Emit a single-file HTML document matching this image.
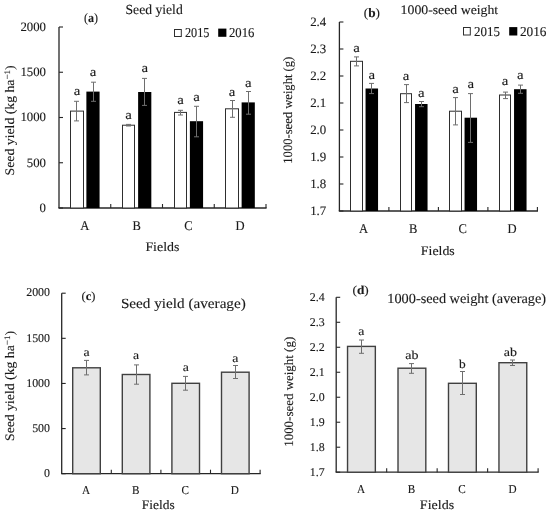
<!DOCTYPE html>
<html><head><meta charset="utf-8"><title>Seed yield and 1000-seed weight</title>
<style>
html,body{margin:0;padding:0;background:#fff;}
body{width:550px;height:513px;overflow:hidden;}
svg{display:block;}
svg text{text-rendering:geometricPrecision;font-family:'Liberation Serif', 'Times New Roman', serif;fill:#1a1a1a;stroke:#1a1a1a;stroke-width:0.12px;}
</style></head>
<body>
<svg width="550" height="513" viewBox="0 0 550 513">
<rect width="550" height="513" fill="#fff"/>
<line x1="59.0" y1="27.0" x2="59.0" y2="208.0" stroke="#262626" stroke-width="1.3"/>
<line x1="59.0" y1="27.0" x2="63.0" y2="27.0" stroke="#262626" stroke-width="1.1"/>
<line x1="59.0" y1="72.25" x2="63.0" y2="72.25" stroke="#262626" stroke-width="1.1"/>
<line x1="59.0" y1="117.5" x2="63.0" y2="117.5" stroke="#262626" stroke-width="1.1"/>
<line x1="59.0" y1="162.75" x2="63.0" y2="162.75" stroke="#262626" stroke-width="1.1"/>
<line x1="59.0" y1="208.0" x2="63.0" y2="208.0" stroke="#262626" stroke-width="1.1"/>
<line x1="58.4" y1="208.0" x2="266.6" y2="208.0" stroke="#262626" stroke-width="1.3"/>
<line x1="110.75" y1="208.0" x2="110.75" y2="204.0" stroke="#262626" stroke-width="1.1"/>
<line x1="162.5" y1="208.0" x2="162.5" y2="204.0" stroke="#262626" stroke-width="1.1"/>
<line x1="214.25" y1="208.0" x2="214.25" y2="204.0" stroke="#262626" stroke-width="1.1"/>
<line x1="266.0" y1="208.0" x2="266.0" y2="204.0" stroke="#262626" stroke-width="1.1"/>
<text x="46.0" y="30.9" font-size="12.8" text-anchor="end">2000</text>
<text x="46.0" y="76.15" font-size="12.8" text-anchor="end">1500</text>
<text x="46.0" y="121.4" font-size="12.8" text-anchor="end">1000</text>
<text x="46.0" y="166.65" font-size="12.8" text-anchor="end">500</text>
<text x="46.0" y="211.9" font-size="12.8" text-anchor="end">0</text>
<rect x="70.50" y="111.1" width="13.00" height="96.9" fill="#fff" stroke="#2e2e2e" stroke-width="1"/>
<rect x="86.38" y="91.6" width="13.20" height="116.4" fill="#000"/>
<line x1="76.5" y1="101.3" x2="76.5" y2="120.9" stroke="#6e6e6e" stroke-width="1.0"/>
<line x1="74.0" y1="101.3" x2="79.0" y2="101.3" stroke="#6e6e6e" stroke-width="1.0"/>
<line x1="74.0" y1="120.9" x2="79.0" y2="120.9" stroke="#6e6e6e" stroke-width="1.0"/>
<line x1="93.5" y1="82.2" x2="93.5" y2="101.3" stroke="#6e6e6e" stroke-width="1.0"/>
<line x1="91.0" y1="82.2" x2="96.0" y2="82.2" stroke="#6e6e6e" stroke-width="1.0"/>
<line x1="91.0" y1="101.3" x2="96.0" y2="101.3" stroke="#6e6e6e" stroke-width="1.0"/>
<text x="77.00" y="95.1" font-size="13" text-anchor="middle" textLength="6.6" lengthAdjust="spacingAndGlyphs">a</text>
<text x="92.97" y="75.8" font-size="13" text-anchor="middle" textLength="6.6" lengthAdjust="spacingAndGlyphs">a</text>
<rect x="122.50" y="125.2" width="12.00" height="82.8" fill="#fff" stroke="#2e2e2e" stroke-width="1"/>
<rect x="138.12" y="92.0" width="13.20" height="116.0" fill="#000"/>
<line x1="128.5" y1="124.4" x2="128.5" y2="126.0" stroke="#6e6e6e" stroke-width="1.0"/>
<line x1="126.0" y1="124.4" x2="131.0" y2="124.4" stroke="#6e6e6e" stroke-width="1.0"/>
<line x1="126.0" y1="126.0" x2="131.0" y2="126.0" stroke="#6e6e6e" stroke-width="1.0"/>
<line x1="144.5" y1="78.4" x2="144.5" y2="105.4" stroke="#6e6e6e" stroke-width="1.0"/>
<line x1="142.0" y1="78.4" x2="147.0" y2="78.4" stroke="#6e6e6e" stroke-width="1.0"/>
<line x1="142.0" y1="105.4" x2="147.0" y2="105.4" stroke="#6e6e6e" stroke-width="1.0"/>
<text x="128.50" y="119.0" font-size="13" text-anchor="middle" textLength="6.6" lengthAdjust="spacingAndGlyphs">a</text>
<text x="144.72" y="72.2" font-size="13" text-anchor="middle" textLength="6.6" lengthAdjust="spacingAndGlyphs">a</text>
<rect x="174.50" y="112.4" width="12.00" height="95.6" fill="#fff" stroke="#2e2e2e" stroke-width="1"/>
<rect x="189.88" y="121.2" width="13.20" height="86.8" fill="#000"/>
<line x1="180.5" y1="110.3" x2="180.5" y2="115.0" stroke="#6e6e6e" stroke-width="1.0"/>
<line x1="178.0" y1="110.3" x2="183.0" y2="110.3" stroke="#6e6e6e" stroke-width="1.0"/>
<line x1="178.0" y1="115.0" x2="183.0" y2="115.0" stroke="#6e6e6e" stroke-width="1.0"/>
<line x1="196.5" y1="106.3" x2="196.5" y2="136.8" stroke="#6e6e6e" stroke-width="1.0"/>
<line x1="194.0" y1="106.3" x2="199.0" y2="106.3" stroke="#6e6e6e" stroke-width="1.0"/>
<line x1="194.0" y1="136.8" x2="199.0" y2="136.8" stroke="#6e6e6e" stroke-width="1.0"/>
<text x="180.50" y="104.3" font-size="13" text-anchor="middle" textLength="6.6" lengthAdjust="spacingAndGlyphs">a</text>
<text x="196.47" y="101.2" font-size="13" text-anchor="middle" textLength="6.6" lengthAdjust="spacingAndGlyphs">a</text>
<rect x="225.50" y="108.8" width="13.00" height="99.2" fill="#fff" stroke="#2e2e2e" stroke-width="1"/>
<rect x="241.62" y="102.4" width="13.20" height="105.6" fill="#000"/>
<line x1="232.5" y1="100.5" x2="232.5" y2="117.3" stroke="#6e6e6e" stroke-width="1.0"/>
<line x1="230.0" y1="100.5" x2="235.0" y2="100.5" stroke="#6e6e6e" stroke-width="1.0"/>
<line x1="230.0" y1="117.3" x2="235.0" y2="117.3" stroke="#6e6e6e" stroke-width="1.0"/>
<line x1="248.5" y1="91.5" x2="248.5" y2="114.2" stroke="#6e6e6e" stroke-width="1.0"/>
<line x1="246.0" y1="91.5" x2="251.0" y2="91.5" stroke="#6e6e6e" stroke-width="1.0"/>
<line x1="246.0" y1="114.2" x2="251.0" y2="114.2" stroke="#6e6e6e" stroke-width="1.0"/>
<text x="232.00" y="95.8" font-size="13" text-anchor="middle" textLength="6.6" lengthAdjust="spacingAndGlyphs">a</text>
<text x="248.22" y="86.5" font-size="13" text-anchor="middle" textLength="6.6" lengthAdjust="spacingAndGlyphs">a</text>
<text x="84.88" y="230.0" font-size="13.4" text-anchor="middle" textLength="9.1" lengthAdjust="spacingAndGlyphs">A</text>
<text x="136.62" y="230.0" font-size="13.4" text-anchor="middle" textLength="8.4" lengthAdjust="spacingAndGlyphs">B</text>
<text x="188.38" y="230.0" font-size="13.4" text-anchor="middle" textLength="8.4" lengthAdjust="spacingAndGlyphs">C</text>
<text x="240.12" y="230.0" font-size="13.4" text-anchor="middle" textLength="9.1" lengthAdjust="spacingAndGlyphs">D</text>
<text x="162.4" y="251.0" font-size="13" text-anchor="middle" textLength="34" lengthAdjust="spacingAndGlyphs">Fields</text>
<text x="125.5" y="14.4" font-size="13.8" textLength="57.2" lengthAdjust="spacingAndGlyphs">Seed yield</text>
<text x="84.0" y="22.4" font-size="13" textLength="14.0" lengthAdjust="spacingAndGlyphs">(<tspan font-weight="bold">a</tspan>)</text>
<rect x="174.5" y="29.5" width="6.8" height="7" fill="#fff" stroke="#2e2e2e" stroke-width="1"/>
<text x="184.9" y="36.7" font-size="13.6" textLength="24.5" lengthAdjust="spacingAndGlyphs">2015</text>
<rect x="218.2" y="28.6" width="8.2" height="8.2" fill="#000"/>
<text x="229.0" y="36.7" font-size="13.6" textLength="25.4" lengthAdjust="spacingAndGlyphs">2016</text>
<text transform="translate(14.3,120.4) rotate(-90)" font-size="13" text-anchor="middle" textLength="110" lengthAdjust="spacingAndGlyphs">Seed yield (kg ha<tspan font-size="8.5" dy="-4.5">−1</tspan><tspan dy="4.5">)</tspan></text>
<line x1="339.4" y1="22.0" x2="339.4" y2="211.0" stroke="#262626" stroke-width="1.3"/>
<line x1="339.4" y1="22.0" x2="343.4" y2="22.0" stroke="#262626" stroke-width="1.1"/>
<line x1="339.4" y1="49.0" x2="343.4" y2="49.0" stroke="#262626" stroke-width="1.1"/>
<line x1="339.4" y1="76.0" x2="343.4" y2="76.0" stroke="#262626" stroke-width="1.1"/>
<line x1="339.4" y1="103.0" x2="343.4" y2="103.0" stroke="#262626" stroke-width="1.1"/>
<line x1="339.4" y1="130.0" x2="343.4" y2="130.0" stroke="#262626" stroke-width="1.1"/>
<line x1="339.4" y1="157.0" x2="343.4" y2="157.0" stroke="#262626" stroke-width="1.1"/>
<line x1="339.4" y1="184.0" x2="343.4" y2="184.0" stroke="#262626" stroke-width="1.1"/>
<line x1="339.4" y1="211.0" x2="343.4" y2="211.0" stroke="#262626" stroke-width="1.1"/>
<line x1="338.79999999999995" y1="211.0" x2="538.0" y2="211.0" stroke="#262626" stroke-width="1.3"/>
<line x1="388.9" y1="211.0" x2="388.9" y2="207.0" stroke="#262626" stroke-width="1.1"/>
<line x1="438.4" y1="211.0" x2="438.4" y2="207.0" stroke="#262626" stroke-width="1.1"/>
<line x1="487.9" y1="211.0" x2="487.9" y2="207.0" stroke="#262626" stroke-width="1.1"/>
<line x1="537.4" y1="211.0" x2="537.4" y2="207.0" stroke="#262626" stroke-width="1.1"/>
<text x="326.3" y="26.3" font-size="12.9" text-anchor="end">2.4</text>
<text x="326.3" y="53.3" font-size="12.9" text-anchor="end">2.3</text>
<text x="326.3" y="80.3" font-size="12.9" text-anchor="end">2.2</text>
<text x="326.3" y="107.3" font-size="12.9" text-anchor="end">2.1</text>
<text x="326.3" y="134.3" font-size="12.9" text-anchor="end">2.0</text>
<text x="326.3" y="161.3" font-size="12.9" text-anchor="end">1.9</text>
<text x="326.3" y="188.3" font-size="12.9" text-anchor="end">1.8</text>
<text x="326.3" y="215.3" font-size="12.9" text-anchor="end">1.7</text>
<rect x="350.50" y="61.3" width="12.00" height="149.7" fill="#fff" stroke="#2e2e2e" stroke-width="1"/>
<rect x="365.55" y="88.5" width="12.50" height="122.5" fill="#000"/>
<line x1="356.5" y1="56.9" x2="356.5" y2="65.9" stroke="#6e6e6e" stroke-width="1.0"/>
<line x1="354.0" y1="56.9" x2="359.0" y2="56.9" stroke="#6e6e6e" stroke-width="1.0"/>
<line x1="354.0" y1="65.9" x2="359.0" y2="65.9" stroke="#6e6e6e" stroke-width="1.0"/>
<line x1="371.5" y1="83.4" x2="371.5" y2="93.6" stroke="#6e6e6e" stroke-width="1.0"/>
<line x1="369.0" y1="83.4" x2="374.0" y2="83.4" stroke="#6e6e6e" stroke-width="1.0"/>
<line x1="369.0" y1="93.6" x2="374.0" y2="93.6" stroke="#6e6e6e" stroke-width="1.0"/>
<text x="356.50" y="51.6" font-size="13" text-anchor="middle" textLength="6.6" lengthAdjust="spacingAndGlyphs">a</text>
<text x="371.80" y="78.9" font-size="13" text-anchor="middle" textLength="6.6" lengthAdjust="spacingAndGlyphs">a</text>
<rect x="400.50" y="93.7" width="11.00" height="117.3" fill="#fff" stroke="#2e2e2e" stroke-width="1"/>
<rect x="415.05" y="104.0" width="12.50" height="107.0" fill="#000"/>
<line x1="406.5" y1="84.6" x2="406.5" y2="102.6" stroke="#6e6e6e" stroke-width="1.0"/>
<line x1="404.0" y1="84.6" x2="409.0" y2="84.6" stroke="#6e6e6e" stroke-width="1.0"/>
<line x1="404.0" y1="102.6" x2="409.0" y2="102.6" stroke="#6e6e6e" stroke-width="1.0"/>
<line x1="421.5" y1="101.5" x2="421.5" y2="106.7" stroke="#6e6e6e" stroke-width="1.0"/>
<line x1="419.0" y1="101.5" x2="424.0" y2="101.5" stroke="#6e6e6e" stroke-width="1.0"/>
<line x1="419.0" y1="106.7" x2="424.0" y2="106.7" stroke="#6e6e6e" stroke-width="1.0"/>
<text x="406.00" y="79.8" font-size="13" text-anchor="middle" textLength="6.6" lengthAdjust="spacingAndGlyphs">a</text>
<text x="421.30" y="96.9" font-size="13" text-anchor="middle" textLength="6.6" lengthAdjust="spacingAndGlyphs">a</text>
<rect x="449.50" y="111.2" width="12.00" height="99.8" fill="#fff" stroke="#2e2e2e" stroke-width="1"/>
<rect x="464.55" y="117.7" width="12.50" height="93.3" fill="#000"/>
<line x1="455.5" y1="97.6" x2="455.5" y2="124.9" stroke="#6e6e6e" stroke-width="1.0"/>
<line x1="453.0" y1="97.6" x2="458.0" y2="97.6" stroke="#6e6e6e" stroke-width="1.0"/>
<line x1="453.0" y1="124.9" x2="458.0" y2="124.9" stroke="#6e6e6e" stroke-width="1.0"/>
<line x1="470.5" y1="93.6" x2="470.5" y2="142.4" stroke="#6e6e6e" stroke-width="1.0"/>
<line x1="468.0" y1="93.6" x2="473.0" y2="93.6" stroke="#6e6e6e" stroke-width="1.0"/>
<line x1="468.0" y1="142.4" x2="473.0" y2="142.4" stroke="#6e6e6e" stroke-width="1.0"/>
<text x="455.50" y="92.8" font-size="13" text-anchor="middle" textLength="6.6" lengthAdjust="spacingAndGlyphs">a</text>
<text x="470.80" y="87.5" font-size="13" text-anchor="middle" textLength="6.6" lengthAdjust="spacingAndGlyphs">a</text>
<rect x="499.50" y="95.0" width="11.00" height="116.0" fill="#fff" stroke="#2e2e2e" stroke-width="1"/>
<rect x="514.05" y="89.2" width="12.50" height="121.8" fill="#000"/>
<line x1="505.5" y1="92.1" x2="505.5" y2="98.6" stroke="#6e6e6e" stroke-width="1.0"/>
<line x1="503.0" y1="92.1" x2="508.0" y2="92.1" stroke="#6e6e6e" stroke-width="1.0"/>
<line x1="503.0" y1="98.6" x2="508.0" y2="98.6" stroke="#6e6e6e" stroke-width="1.0"/>
<line x1="520.5" y1="85.1" x2="520.5" y2="93.3" stroke="#6e6e6e" stroke-width="1.0"/>
<line x1="518.0" y1="85.1" x2="523.0" y2="85.1" stroke="#6e6e6e" stroke-width="1.0"/>
<line x1="518.0" y1="93.3" x2="523.0" y2="93.3" stroke="#6e6e6e" stroke-width="1.0"/>
<text x="505.00" y="85.1" font-size="13" text-anchor="middle" textLength="6.6" lengthAdjust="spacingAndGlyphs">a</text>
<text x="520.30" y="78.7" font-size="13" text-anchor="middle" textLength="6.6" lengthAdjust="spacingAndGlyphs">a</text>
<text x="363.65" y="232.7" font-size="13.4" text-anchor="middle" textLength="9.1" lengthAdjust="spacingAndGlyphs">A</text>
<text x="413.15" y="232.7" font-size="13.4" text-anchor="middle" textLength="8.4" lengthAdjust="spacingAndGlyphs">B</text>
<text x="462.65" y="232.7" font-size="13.4" text-anchor="middle" textLength="8.4" lengthAdjust="spacingAndGlyphs">C</text>
<text x="512.15" y="232.7" font-size="13.4" text-anchor="middle" textLength="9.1" lengthAdjust="spacingAndGlyphs">D</text>
<text x="437.8" y="255.0" font-size="13" text-anchor="middle" textLength="34" lengthAdjust="spacingAndGlyphs">Fields</text>
<text x="400.6" y="14.2" font-size="13" textLength="97.6" lengthAdjust="spacingAndGlyphs">1000-seed weight</text>
<text x="363.8" y="17.2" font-size="13" textLength="16.2" lengthAdjust="spacingAndGlyphs">(<tspan font-weight="bold">b</tspan>)</text>
<rect x="463.5" y="27.5" width="6.8" height="7.5" fill="#fff" stroke="#2e2e2e" stroke-width="1"/>
<text x="474.0" y="35.6" font-size="13.6" textLength="25.9" lengthAdjust="spacingAndGlyphs">2015</text>
<rect x="509.2" y="27.1" width="8.1" height="8.4" fill="#000"/>
<text x="519.9" y="35.6" font-size="13.6" textLength="26.6" lengthAdjust="spacingAndGlyphs">2016</text>
<text transform="translate(291.8,110.2) rotate(-90)" font-size="12.8" text-anchor="middle" textLength="107" lengthAdjust="spacingAndGlyphs">1000-seed weight (g)</text>
<line x1="61.7" y1="293.2" x2="61.7" y2="473.7" stroke="#262626" stroke-width="1.3"/>
<line x1="61.7" y1="293.2" x2="65.7" y2="293.2" stroke="#262626" stroke-width="1.1"/>
<line x1="61.7" y1="338.325" x2="65.7" y2="338.325" stroke="#262626" stroke-width="1.1"/>
<line x1="61.7" y1="383.45" x2="65.7" y2="383.45" stroke="#262626" stroke-width="1.1"/>
<line x1="61.7" y1="428.575" x2="65.7" y2="428.575" stroke="#262626" stroke-width="1.1"/>
<line x1="61.7" y1="473.7" x2="65.7" y2="473.7" stroke="#262626" stroke-width="1.1"/>
<line x1="61.1" y1="473.7" x2="260.70000000000005" y2="473.7" stroke="#262626" stroke-width="1.3"/>
<line x1="111.30000000000001" y1="473.7" x2="111.30000000000001" y2="469.7" stroke="#262626" stroke-width="1.1"/>
<line x1="160.90000000000003" y1="473.7" x2="160.90000000000003" y2="469.7" stroke="#262626" stroke-width="1.1"/>
<line x1="210.5" y1="473.7" x2="210.5" y2="469.7" stroke="#262626" stroke-width="1.1"/>
<line x1="260.1" y1="473.7" x2="260.1" y2="469.7" stroke="#262626" stroke-width="1.1"/>
<text x="50.0" y="296.4" font-size="11.9" text-anchor="end">2000</text>
<text x="50.0" y="341.525" font-size="11.9" text-anchor="end">1500</text>
<text x="50.0" y="386.65" font-size="11.9" text-anchor="end">1000</text>
<text x="50.0" y="431.775" font-size="11.9" text-anchor="end">500</text>
<text x="50.0" y="476.9" font-size="11.9" text-anchor="end">0</text>
<rect x="72.70" y="367.8" width="27.60" height="105.89999999999998" fill="#e6e6e6" stroke="#404040" stroke-width="1.4"/>
<line x1="86.5" y1="360.4" x2="86.5" y2="374.9" stroke="#6e6e6e" stroke-width="1.0"/>
<line x1="84.0" y1="360.4" x2="89.0" y2="360.4" stroke="#6e6e6e" stroke-width="1.0"/>
<line x1="84.0" y1="374.9" x2="89.0" y2="374.9" stroke="#6e6e6e" stroke-width="1.0"/>
<text x="86.50" y="355.5" font-size="12" text-anchor="middle" textLength="6.1" lengthAdjust="spacingAndGlyphs">a</text>
<rect x="122.30" y="374.5" width="27.60" height="99.19999999999999" fill="#e6e6e6" stroke="#404040" stroke-width="1.4"/>
<line x1="136.5" y1="364.9" x2="136.5" y2="384.2" stroke="#6e6e6e" stroke-width="1.0"/>
<line x1="134.0" y1="364.9" x2="139.0" y2="364.9" stroke="#6e6e6e" stroke-width="1.0"/>
<line x1="134.0" y1="384.2" x2="139.0" y2="384.2" stroke="#6e6e6e" stroke-width="1.0"/>
<text x="136.10" y="359.1" font-size="12" text-anchor="middle" textLength="6.1" lengthAdjust="spacingAndGlyphs">a</text>
<rect x="171.90" y="383.3" width="27.60" height="90.39999999999998" fill="#e6e6e6" stroke="#404040" stroke-width="1.4"/>
<line x1="185.5" y1="376.4" x2="185.5" y2="390.2" stroke="#6e6e6e" stroke-width="1.0"/>
<line x1="183.0" y1="376.4" x2="188.0" y2="376.4" stroke="#6e6e6e" stroke-width="1.0"/>
<line x1="183.0" y1="390.2" x2="188.0" y2="390.2" stroke="#6e6e6e" stroke-width="1.0"/>
<text x="185.70" y="370.5" font-size="12" text-anchor="middle" textLength="6.1" lengthAdjust="spacingAndGlyphs">a</text>
<rect x="221.50" y="372.2" width="27.60" height="101.5" fill="#e6e6e6" stroke="#404040" stroke-width="1.4"/>
<line x1="235.5" y1="365.5" x2="235.5" y2="378.5" stroke="#6e6e6e" stroke-width="1.0"/>
<line x1="233.0" y1="365.5" x2="238.0" y2="365.5" stroke="#6e6e6e" stroke-width="1.0"/>
<line x1="233.0" y1="378.5" x2="238.0" y2="378.5" stroke="#6e6e6e" stroke-width="1.0"/>
<text x="235.30" y="361.5" font-size="12" text-anchor="middle" textLength="6.1" lengthAdjust="spacingAndGlyphs">a</text>
<text x="86.10" y="494.0" font-size="12" text-anchor="middle" textLength="8.09" lengthAdjust="spacingAndGlyphs">A</text>
<text x="135.70" y="494.0" font-size="12" text-anchor="middle" textLength="7.47" lengthAdjust="spacingAndGlyphs">B</text>
<text x="185.30" y="494.0" font-size="12" text-anchor="middle" textLength="7.47" lengthAdjust="spacingAndGlyphs">C</text>
<text x="234.90" y="494.0" font-size="12" text-anchor="middle" textLength="8.09" lengthAdjust="spacingAndGlyphs">D</text>
<text x="158.2" y="508.7" font-size="13" text-anchor="middle" textLength="32.9" lengthAdjust="spacingAndGlyphs">Fields</text>
<text x="120.9" y="308.3" font-size="14" textLength="124.9" lengthAdjust="spacingAndGlyphs">Seed yield (average)</text>
<text x="81.6" y="300.2" font-size="12" textLength="13.9" lengthAdjust="spacingAndGlyphs">(<tspan font-weight="bold">c</tspan>)</text>
<text transform="translate(14.3,386.0) rotate(-90)" font-size="13" text-anchor="middle" textLength="110" lengthAdjust="spacingAndGlyphs">Seed yield (kg ha<tspan font-size="8.5" dy="-4.5">−1</tspan><tspan dy="4.5">)</tspan></text>
<line x1="336.2" y1="297.3" x2="336.2" y2="472.2" stroke="#262626" stroke-width="1.3"/>
<line x1="336.2" y1="297.3" x2="340.2" y2="297.3" stroke="#262626" stroke-width="1.1"/>
<line x1="336.2" y1="322.2857142857143" x2="340.2" y2="322.2857142857143" stroke="#262626" stroke-width="1.1"/>
<line x1="336.2" y1="347.2714285714286" x2="340.2" y2="347.2714285714286" stroke="#262626" stroke-width="1.1"/>
<line x1="336.2" y1="372.25714285714287" x2="340.2" y2="372.25714285714287" stroke="#262626" stroke-width="1.1"/>
<line x1="336.2" y1="397.24285714285713" x2="340.2" y2="397.24285714285713" stroke="#262626" stroke-width="1.1"/>
<line x1="336.2" y1="422.2285714285714" x2="340.2" y2="422.2285714285714" stroke="#262626" stroke-width="1.1"/>
<line x1="336.2" y1="447.21428571428567" x2="340.2" y2="447.21428571428567" stroke="#262626" stroke-width="1.1"/>
<line x1="336.2" y1="472.19999999999993" x2="340.2" y2="472.19999999999993" stroke="#262626" stroke-width="1.1"/>
<line x1="335.59999999999997" y1="472.2" x2="538.7" y2="472.2" stroke="#262626" stroke-width="1.3"/>
<line x1="386.675" y1="472.2" x2="386.675" y2="468.2" stroke="#262626" stroke-width="1.1"/>
<line x1="437.15" y1="472.2" x2="437.15" y2="468.2" stroke="#262626" stroke-width="1.1"/>
<line x1="487.625" y1="472.2" x2="487.625" y2="468.2" stroke="#262626" stroke-width="1.1"/>
<line x1="538.1" y1="472.2" x2="538.1" y2="468.2" stroke="#262626" stroke-width="1.1"/>
<text x="324.6" y="300.90000000000003" font-size="11.9" text-anchor="end">2.4</text>
<text x="324.6" y="325.8857142857143" font-size="11.9" text-anchor="end">2.3</text>
<text x="324.6" y="350.8714285714286" font-size="11.9" text-anchor="end">2.2</text>
<text x="324.6" y="375.8571428571429" font-size="11.9" text-anchor="end">2.1</text>
<text x="324.6" y="400.84285714285716" font-size="11.9" text-anchor="end">2.0</text>
<text x="324.6" y="425.8285714285714" font-size="11.9" text-anchor="end">1.9</text>
<text x="324.6" y="450.8142857142857" font-size="11.9" text-anchor="end">1.8</text>
<text x="324.6" y="475.79999999999995" font-size="11.9" text-anchor="end">1.7</text>
<rect x="347.54" y="346.4" width="27.80" height="125.80000000000001" fill="#e6e6e6" stroke="#404040" stroke-width="1.4"/>
<line x1="361.5" y1="340.0" x2="361.5" y2="353.3" stroke="#6e6e6e" stroke-width="1.0"/>
<line x1="359.0" y1="340.0" x2="364.0" y2="340.0" stroke="#6e6e6e" stroke-width="1.0"/>
<line x1="359.0" y1="353.3" x2="364.0" y2="353.3" stroke="#6e6e6e" stroke-width="1.0"/>
<text x="361.44" y="334.5" font-size="12" text-anchor="middle" textLength="6.1" lengthAdjust="spacingAndGlyphs">a</text>
<rect x="398.01" y="368.2" width="27.80" height="104.0" fill="#e6e6e6" stroke="#404040" stroke-width="1.4"/>
<line x1="411.5" y1="363.6" x2="411.5" y2="373.3" stroke="#6e6e6e" stroke-width="1.0"/>
<line x1="409.0" y1="363.6" x2="414.0" y2="363.6" stroke="#6e6e6e" stroke-width="1.0"/>
<line x1="409.0" y1="373.3" x2="414.0" y2="373.3" stroke="#6e6e6e" stroke-width="1.0"/>
<text x="411.91" y="359.1" font-size="12" text-anchor="middle" textLength="13.2" lengthAdjust="spacingAndGlyphs">ab</text>
<rect x="448.49" y="383.3" width="27.80" height="88.89999999999998" fill="#e6e6e6" stroke="#404040" stroke-width="1.4"/>
<line x1="462.5" y1="371.5" x2="462.5" y2="394.5" stroke="#6e6e6e" stroke-width="1.0"/>
<line x1="460.0" y1="371.5" x2="465.0" y2="371.5" stroke="#6e6e6e" stroke-width="1.0"/>
<line x1="460.0" y1="394.5" x2="465.0" y2="394.5" stroke="#6e6e6e" stroke-width="1.0"/>
<text x="462.39" y="368.2" font-size="12" text-anchor="middle" textLength="6.7" lengthAdjust="spacingAndGlyphs">b</text>
<rect x="498.96" y="362.7" width="27.80" height="109.5" fill="#e6e6e6" stroke="#404040" stroke-width="1.4"/>
<line x1="512.5" y1="360.0" x2="512.5" y2="365.5" stroke="#6e6e6e" stroke-width="1.0"/>
<line x1="510.0" y1="360.0" x2="515.0" y2="360.0" stroke="#6e6e6e" stroke-width="1.0"/>
<line x1="510.0" y1="365.5" x2="515.0" y2="365.5" stroke="#6e6e6e" stroke-width="1.0"/>
<text x="510.36" y="355.8" font-size="12" text-anchor="middle" textLength="13.2" lengthAdjust="spacingAndGlyphs">ab</text>
<text x="361.04" y="493.2" font-size="12" text-anchor="middle" textLength="8.09" lengthAdjust="spacingAndGlyphs">A</text>
<text x="411.51" y="493.2" font-size="12" text-anchor="middle" textLength="7.47" lengthAdjust="spacingAndGlyphs">B</text>
<text x="461.99" y="493.2" font-size="12" text-anchor="middle" textLength="7.47" lengthAdjust="spacingAndGlyphs">C</text>
<text x="512.46" y="493.2" font-size="12" text-anchor="middle" textLength="8.09" lengthAdjust="spacingAndGlyphs">D</text>
<text x="437.0" y="508.8" font-size="13" text-anchor="middle" textLength="34.3" lengthAdjust="spacingAndGlyphs">Fields</text>
<text x="387.3" y="302.8" font-size="14" textLength="158.7" lengthAdjust="spacingAndGlyphs">1000-seed weight (average)</text>
<text x="352.5" y="294.4" font-size="12" textLength="16.2" lengthAdjust="spacingAndGlyphs">(<tspan font-weight="bold">d</tspan>)</text>
<text transform="translate(292.6,391.8) rotate(-90)" font-size="12.8" text-anchor="middle" textLength="110" lengthAdjust="spacingAndGlyphs">1000-seed weight (g)</text>
</svg>
</body></html>
